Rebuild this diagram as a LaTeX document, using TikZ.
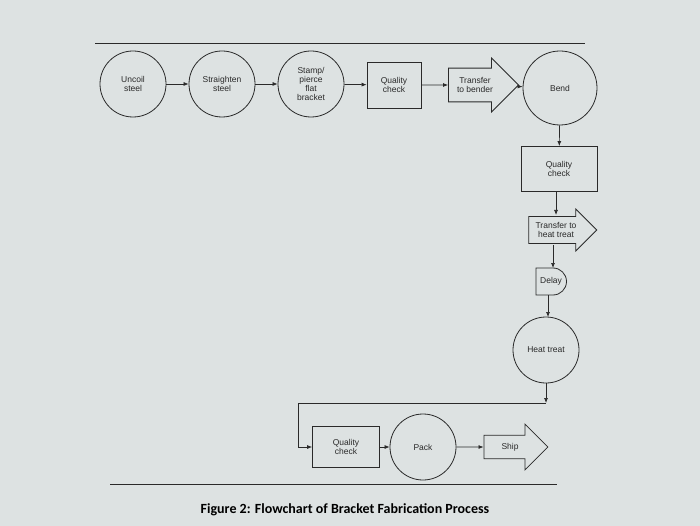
\documentclass[tikz,border=0pt]{standalone}
\usepackage{fontspec}
\setmainfont{Liberation Sans}
\newfontfamily\capfont{Carlito}
\usetikzlibrary{shapes.arrows,arrows.meta}
\definecolor{bg}{HTML}{DDE2E2}
\definecolor{ink}{HTML}{2A2A2A}
\begin{document}
\begin{tikzpicture}[x=1pt,y=-1pt,
  every node/.style={font=\fontsize{8.5}{9}\selectfont,text=ink,align=center,draw=ink,line width=0.8pt},
  circ/.style={circle,minimum size=66pt,inner sep=0pt},
  box/.style={rectangle,minimum width=50pt,minimum height=44pt,inner sep=1pt},
  sarrow/.style={single arrow,single arrow head extend=6pt,single arrow tip angle=90,inner sep=2pt,minimum height=70pt},
  con/.style={draw=ink,line width=0.7pt,-{Latex[length=5pt,width=4pt]}}]
\fill[bg] (0,0) rectangle (700,526);
\useasboundingbox (0,0) rectangle (700,526);
\draw[ink,line width=0.8pt] (95,43) -- (585,43);
\draw[ink,line width=0.8pt] (110,484) -- (557,484);
\node[circ] (a) at (133,84) {Uncoil\\steel};
\node[circ] (b) at (222,84) {Straighten\\steel};
\node[circ] (c) at (311,84) {Stamp/\\pierce\\flat\\bracket};
\node[box,minimum width=54pt,minimum height=46pt] (d) at (394,85) {Quality\\check};
\node[sarrow,minimum width=54pt] (e) at (475,85) {Transfer\\to bender};
\node[circ,minimum size=74pt] (f) at (560,88) {Bend};
\node[box,minimum width=76pt,minimum height=45pt] (g) at (559,169) {Quality\\check};
\node[sarrow,minimum height=68pt,minimum width=42pt,inner sep=1pt,single arrow head extend=5pt] (h) at (556,230) {Transfer to\\heat treat};
\draw[ink,line width=0.8pt] (536,268) -- (553,268) arc[start angle=-90,end angle=90,radius=13.5] -- (536,295) -- cycle;
\node[draw=none] (i) at (551,281.5) {Delay};
\node[circ] (j) at (546,350) {Heat treat};
\node[box,minimum width=67pt,minimum height=41pt] (k) at (346,447) {Quality\\check};
\node[circ] (l) at (423,447) {Pack};
\node[sarrow,minimum height=64pt,minimum width=46pt] (m) at (510,447) {Ship};
\node[draw=none,font=\capfont\bfseries\fontsize{14}{16}\selectfont,text=black] (cap) at (345,510) {Figure 2: Flowchart of Bracket Fabrication Process};
\draw[con] (a) -- (b);
\draw[con] (b) -- (c);
\draw[con] (c) -- (d);
\draw[con] (d) -- (e);
\draw[con] (e) -- (f);
\draw[con] (f) -- (g);
\coordinate (g1) at (556,191.5);
\coordinate (h1) at (556,215);
\coordinate (h2) at (553,245);
\coordinate (i1) at (553,268);
\coordinate (i2) at (548,295);
\coordinate (j1) at (548,317);
\draw[con] (g1) -- (h1);
\draw[con] (h2) -- (i1);
\draw[con] (i2) -- (j1);
\coordinate (p1) at (546,403);
\coordinate (p2) at (298,403);
\coordinate (p3) at (298,447);
\draw[con] (j) -- (p1);
\draw[con] (p1) -- (p2) -- (p3) -- (k);
\draw[con] (k) -- (l);
\draw[con] (l) -- (m);
\end{tikzpicture}
\end{document}
